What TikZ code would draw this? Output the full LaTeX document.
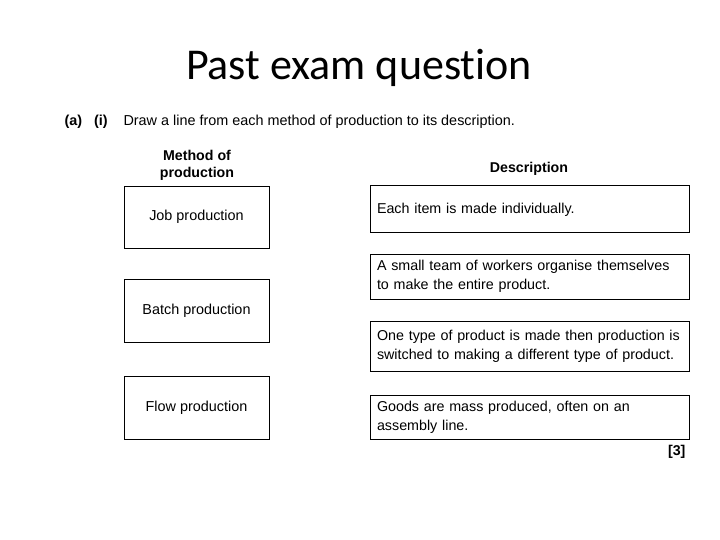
\documentclass[tikz,border=0pt]{standalone}
\usepackage{fontspec}
\setmainfont{Liberation Sans}
\newfontfamily\titlefont[Ligatures={NoCommon,NoRare}]{Carlito}
\begin{document}
\tikzset{method/.style={draw,line width=0.8pt,minimum width=145pt,inner sep=0pt,font=\fontsize{14.4}{16}\selectfont},
	desc/.style={draw,line width=0.8pt,minimum width=319pt,inner sep=0pt,align=left,text width=305pt,font=\fontsize{14.3}{17}\selectfont}}
\begin{tikzpicture}[x=1pt,y=-1pt]
			\useasboundingbox (0,0) rectangle (720,540);
			\node (title) at (359,68) {\titlefont\fontsize{44}{48}\selectfont Past exam question};
			\node[anchor=west,font=\fontsize{14.4}{16}\selectfont\bfseries] (part) at (61,122) {(a)\hspace{12pt}(i)};
			\node[anchor=west,font=\fontsize{14.4}{16}\selectfont] (task) at (120,122) {Draw a line from each method of production to its description.};
			\node[align=center,font=\fontsize{14.2}{17}\selectfont\bfseries] (mhead) at (197,165) {Method of\\production};
			\node[font=\fontsize{14.2}{16}\selectfont\bfseries] (dhead) at (529,169) {Description};
			% methods
			\node[method,minimum height=62pt] (job) at (196.5,217) {\raisebox{-2pt}{Job production}};
			\node[method,minimum height=63pt] (batch) at (196.5,310.5) {\raisebox{-2pt}{Batch production}};
			\node[method,minimum height=63pt] (flow) at (196.5,407.5) {\raisebox{-2pt}{Flow production}};
			% descriptions
			\node[desc,minimum height=47pt,text depth=-1pt] (each) at (529.5,208.5) {Each item is made individually.};
			\node[desc,minimum height=45pt] (team) at (529.5,276.5) {\vspace{2pt}A small team of workers organise themselves\\to make the entire product.};
			\node[desc,minimum height=50pt] (type) at (529.5,346) {\vspace{2pt}One type of product is made then production is\\switched to making a different type of product.};
			\node[desc,minimum height=44pt] (goods) at (529.5,417) {\vspace{2pt}Goods are mass produced, often on an\\assembly line.};
			\node[anchor=east,font=\fontsize{14.2}{16}\selectfont\bfseries] (marks) at (689,452) {[3]};
	\end{tikzpicture}
\end{document}
